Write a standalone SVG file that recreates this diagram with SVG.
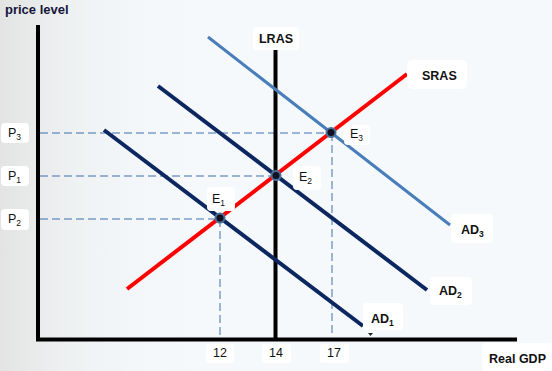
<svg xmlns="http://www.w3.org/2000/svg" width="552" height="371" viewBox="0 0 552 371">
<defs>
<linearGradient id="bgfade" x1="0" y1="0" x2="1" y2="0">
<stop offset="0" stop-color="#dcdcda" stop-opacity="0.75"/>
<stop offset="0.35" stop-color="#e8eaea" stop-opacity="0.5"/>
<stop offset="1" stop-color="#f6f9fc" stop-opacity="0"/>
</linearGradient>
<style>
.lbl{font-family:"Liberation Sans","DejaVu Sans",sans-serif;font-size:12.5px;fill:#111;}
.b{font-weight:bold;}
.sub{font-size:8.5px;}
.box{fill:#ffffff;}
.dash{stroke:#3f6fb0;stroke-width:1;stroke-dasharray:8,4;fill:none;}
.pt{fill:#111122;stroke:#4a6f99;stroke-width:2;}
</style>
</defs>
<rect x="0" y="0" width="552" height="371" fill="#f6f9fc"/>
<rect x="0" y="0" width="220" height="371" fill="url(#bgfade)"/>
<g id="axes" stroke="#000" stroke-width="4" fill="none">
<line x1="38" y1="25" x2="38" y2="341"/>
<line x1="36" y1="339.5" x2="517" y2="339.5"/>
</g>
<g id="connectors">
<line class="dash" x1="40" y1="133" x2="331" y2="133"/>
<line class="dash" x1="40" y1="176" x2="276" y2="176"/>
<line class="dash" x1="40" y1="219" x2="220" y2="219"/>
<line class="dash" x1="220" y1="219" x2="220" y2="337"/>
<line class="dash" x1="332" y1="133" x2="332" y2="337"/>
</g>
<g id="LRAS">
<line x1="275.5" y1="50" x2="275.5" y2="339" stroke="#000" stroke-width="4"/>
<rect class="box" x="253" y="27" width="46" height="23" rx="4"/>
<text class="lbl b" x="276" y="43" text-anchor="middle">LRAS</text>
</g>
<g id="AD1">
<line x1="104" y1="130" x2="363" y2="326" stroke="#0c2660" stroke-width="4"/>
<rect class="box" x="363" y="303" width="40" height="27" rx="4"/>
<text class="lbl b" x="371" y="323">AD<tspan class="sub" dy="3">1</tspan></text>
<path d="M368,333 l5,0 l-2.5,3 z" fill="#222"/>
</g>
<g id="AD2">
<line x1="158" y1="86" x2="427" y2="290" stroke="#0c2660" stroke-width="4"/>
<rect class="box" x="430" y="277" width="42" height="28" rx="4"/>
<text class="lbl b" x="439" y="295">AD<tspan class="sub" dy="3">2</tspan></text>
</g>
<g id="AD3">
<line x1="208" y1="37" x2="450" y2="225" stroke="#4a7ebb" stroke-width="3"/>
<rect class="box" x="451" y="214" width="42" height="29" rx="4"/>
<text class="lbl b" x="461" y="234">AD<tspan class="sub" dy="3">3</tspan></text>
</g>
<g id="SRAS">
<line x1="127" y1="289" x2="407" y2="74" stroke="#ff0000" stroke-width="4"/>
<rect class="box" x="407" y="60" width="60" height="29" rx="5"/>
<text class="lbl b" x="422" y="80">SRAS</text>
</g>
<g id="E1">
<circle class="pt" cx="220" cy="218" r="4.5"/>
<rect class="box" x="207" y="187" width="28" height="24" rx="4"/>
<text class="lbl" x="212" y="203">E<tspan class="sub" dy="3">1</tspan></text>
</g>
<g id="E2">
<circle class="pt" cx="276" cy="175.5" r="4.5"/>
<rect class="box" x="293" y="166" width="28" height="24" rx="4"/>
<text class="lbl" x="299" y="181">E<tspan class="sub" dy="3">2</tspan></text>
</g>
<g id="E3">
<circle class="pt" cx="331" cy="132.5" r="4.5"/>
<rect class="box" x="344" y="125" width="26" height="20" rx="4"/>
<text class="lbl" x="350" y="138">E<tspan class="sub" dy="3">3</tspan></text>
</g>
<g id="P3">
<rect class="box" x="1" y="123" width="28" height="20" rx="4"/>
<text class="lbl" x="8" y="137">P<tspan class="sub" dy="3">3</tspan></text>
</g>
<g id="P1">
<rect class="box" x="1" y="166" width="28" height="20" rx="4"/>
<text class="lbl" x="8" y="180">P<tspan class="sub" dy="3">1</tspan></text>
</g>
<g id="P2">
<rect class="box" x="1" y="209" width="28" height="21" rx="4"/>
<text class="lbl" x="8" y="223">P<tspan class="sub" dy="3">2</tspan></text>
</g>
<g id="x12">
<rect class="box" x="206" y="344" width="28" height="19" rx="3"/>
<text class="lbl" x="220" y="357" text-anchor="middle">12</text>
</g>
<g id="x14">
<rect class="box" x="262" y="344" width="29" height="19" rx="3"/>
<text class="lbl" x="276" y="357" text-anchor="middle">14</text>
</g>
<g id="x17">
<rect class="box" x="320" y="344" width="29" height="19" rx="3"/>
<text class="lbl" x="334" y="357" text-anchor="middle">17</text>
</g>
<g id="ylabel">
<text class="lbl b" x="5" y="14" style="font-size:13px;fill:#15163a">price level</text>
</g>
<g id="xlabel">
<rect class="box" x="482" y="343" width="70" height="28" rx="3"/>
<text class="lbl b" x="489" y="363">Real GDP</text>
</g>
</svg>
